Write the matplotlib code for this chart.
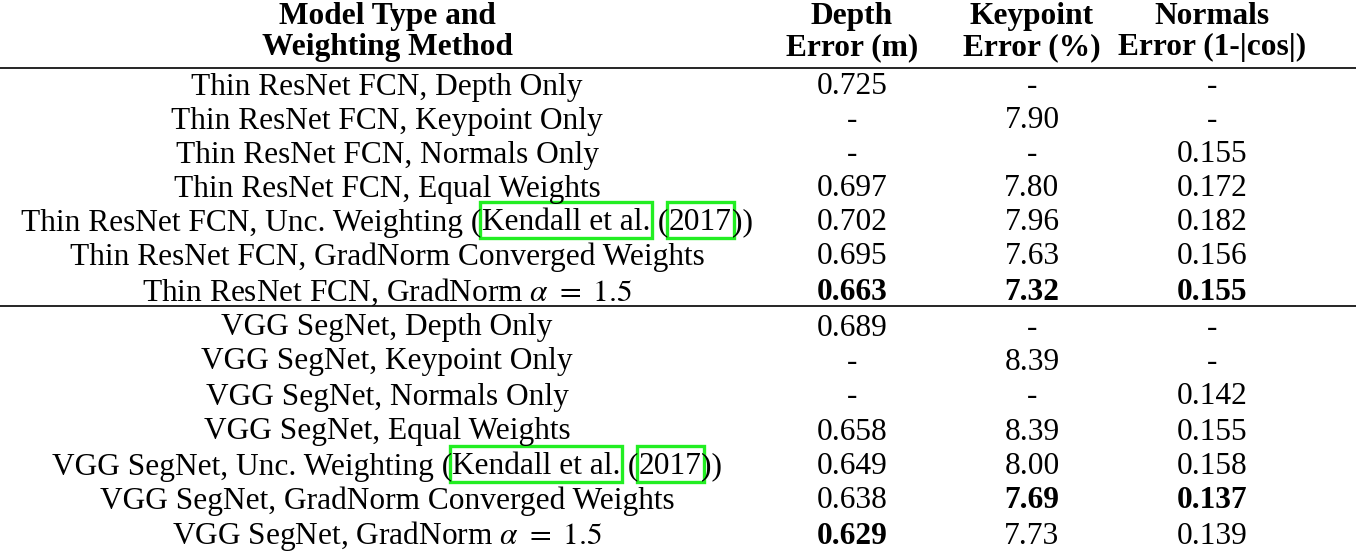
import matplotlib
matplotlib.use("Agg")
import matplotlib.pyplot as plt
from matplotlib.patches import Rectangle

plt.rcParams['font.family'] = ['Liberation Serif', 'DejaVu Serif']
plt.rcParams['mathtext.fontset'] = 'stix'

headers = [("Model Type and\nWeighting Method"), ("Depth\nError (m)"), ("Keypoint\nError (%)"), ("Normals\nError (1-|cos|)")]
models_a = ["Thin ResNet FCN, Depth Only", "Thin ResNet FCN, Keypoint Only", "Thin ResNet FCN, Normals Only",
            "Thin ResNet FCN, Equal Weights", "CITE:Thin ResNet FCN, Unc. Weighting (",
            "Thin ResNet FCN, GradNorm Converged Weights", r"Thin ResNet FCN, GradNorm $\alpha\ =\ 1.5$"]
models_b = ["VGG SegNet, Depth Only", "VGG SegNet, Keypoint Only", "VGG SegNet, Normals Only",
            "VGG SegNet, Equal Weights", "CITE:VGG SegNet, Unc. Weighting (",
            "VGG SegNet, GradNorm Converged Weights", r"VGG SegNet, GradNorm $\alpha\ =\ 1.5$"]
depth_a = ["0.725", "-", "-", "0.697", "0.702", "0.695", "0.663"]
kp_a = ["-", "7.90", "-", "7.80", "7.96", "7.63", "7.32"]
norm_a = ["-", "-", "0.155", "0.172", "0.182", "0.156", "0.155"]
depth_b = ["0.689", "-", "-", "0.658", "0.649", "0.638", "0.629"]
kp_b = ["-", "8.39", "-", "8.39", "8.00", "7.69", "7.73"]
norm_b = ["-", "-", "0.142", "0.155", "0.158", "0.137", "0.139"]
bold_a = [(6, 1), (6, 2), (6, 3)]
bold_b = [(6, 1), (5, 2), (5, 3)]

W, H = 1356, 551
fig = plt.figure(figsize=(W/100, H/100), dpi=100)
ax = fig.add_axes([0, 0, 1, 1])
ax.set_xlim(0, W); ax.set_ylim(H, 0); ax.axis('off')
FS = 22.6
colx = [387, 852, 1032, 1212]
renderer = fig.canvas.get_renderer()
DY = 3

for x, h in zip(colx, headers):
    ax.text(x, 32, h, ha='center', va='center', fontsize=FS, fontweight='bold', linespacing=1.1)
ax.plot([0, W], [68, 68], color='black', lw=1.2)
ax.plot([0, W], [306, 306], color='black', lw=1.2)

def px_width(s):
    t = ax.text(0, 0, s, fontsize=FS)
    bb = t.get_window_extent(renderer)
    t.remove()
    return bb.width

def cite_row(x, y, prefix):
    segs = [(prefix, False), ("Kendall et al.", True), (" (", False), ("2017", True), ("))", False)]
    widths = [px_width(s) for s, _ in segs]
    cur = x - sum(widths) / 2
    for (s, box), w in zip(segs, widths):
        ax.text(cur, y + DY, s, ha='left', va='center', fontsize=FS)
        if box:
            ax.add_patch(Rectangle((cur - 2, y - 18), w + 4, 36, fill=False, ec='#22ee22', lw=2.4))
        cur += w

def block(models, d, k, n, bolds, ys):
    for i, y in enumerate(ys):
        m = models[i]
        if m.startswith("CITE:"):
            cite_row(colx[0], y, m[5:])
        else:
            ax.text(colx[0], y + DY, m, ha='center', va='center', fontsize=FS)
        for j, v in enumerate([d[i], k[i], n[i]], start=1):
            ax.text(colx[j], y + DY, v, ha='center', va='center', fontsize=FS,
                    fontweight='bold' if (i, j) in bolds else 'normal')

block(models_a, depth_a, kp_a, norm_a, bold_a, [84, 118, 152, 186, 220, 254, 289])
block(models_b, depth_b, kp_b, norm_b, bold_b, [325, 359, 394, 429, 464, 498, 533])

fig.savefig("out.png", dpi=100)
